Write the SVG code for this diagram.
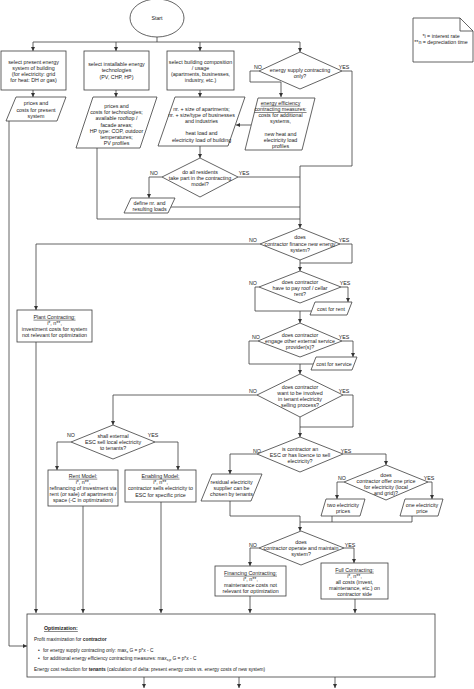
<svg xmlns="http://www.w3.org/2000/svg" width="474" height="689" viewBox="0 0 474 689">
<defs>
<marker id="ah" markerUnits="userSpaceOnUse" markerWidth="4" markerHeight="4" refX="4" refY="2" orient="auto">
<path d="M0,0 L4,2 L0,4 Z" fill="#333"/>
</marker>
<style>
.n{fill:#fff;stroke:#3c3c3c;stroke-width:0.8}
.c{fill:none;stroke:#3c3c3c;stroke-width:0.8}
.a{marker-end:url(#ah)}
text{font-family:"Liberation Sans",Arial,sans-serif;font-size:5.3px;fill:#222;text-anchor:middle}
.l{text-anchor:start}
.u{text-decoration:underline}
.b{font-weight:bold}
.o{font-size:4.8px}
</style>
</defs>
<rect width="474" height="689" fill="#fff"/>
<g id="connectors">
<path class="c" d="M157,37 V42 M33,42 H300"/>
<path class="c a" d="M33,42 V51"/>
<path class="c a" d="M116,42 V51"/>
<path class="c a" d="M200,42 V51"/>
<path class="c a" d="M300,42 V52"/>
<path class="c a" d="M33,90 V97"/>
<path class="c a" d="M116,90 V97"/>
<path class="c a" d="M200,90 V97"/>
<path class="c a" d="M259,71 H250 V82 H281 V97"/>
<path class="c" d="M342,71 H352 V166 H300"/>
<path class="c a" d="M251,125 H236"/>
<path class="c a" d="M200,146 V158"/>
<path class="c a" d="M162,177 H149 V198"/>
<path class="c" d="M238,177 H300"/>
<path class="c" d="M171,207 H300"/>
<path class="c" d="M97,148 V219 H300"/>
<path class="c a" d="M300,166 V228"/>
<path class="c a" d="M260,244 H36 V310"/>
<path class="c" d="M340,244 H352 V263 H300"/>
<path class="c a" d="M300,260 V271"/>
<path class="c a" d="M36,342 V613"/>
<path class="c a" d="M341,287 H348 V302"/>
<path class="c" d="M259,287 H255 V311 H311.5"/>
<path class="c a" d="M300,311 V323"/>
<path class="c a" d="M342,341 H353 V357"/>
<path class="c" d="M258,341 H249 V364 H313"/>
<path class="c a" d="M300,364 V374"/>
<path class="c a" d="M257,395 H113 V425"/>
<path class="c" d="M343,395 H353 V427 H300"/>
<path class="c a" d="M300,417 V437"/>
<path class="c a" d="M71,442 H57 V470"/>
<path class="c a" d="M155,442 H178 V470"/>
<path class="c a" d="M83,506 V613"/>
<path class="c a" d="M161,502 V613"/>
<path class="c a" d="M257,454 H230 V474"/>
<path class="c a" d="M343,454 H386 V465"/>
<path class="c" d="M230,501 V516 H300"/>
<path class="c a" d="M344,482 H337 V499"/>
<path class="c a" d="M428,482 H432 V499"/>
<path class="c" d="M332,516 V522 M412,516 V522 M300,522 H412"/>
<path class="c a" d="M300,516 V531"/>
<path class="c a" d="M259,548 H250 V566"/>
<path class="c a" d="M344,548 H354 V563"/>
<path class="c a" d="M250,596 V613"/>
<path class="c a" d="M355,599 V613"/>
<path class="c a" d="M9,121 V646 H27"/>
<path class="c a" d="M144,677 V688"/>
<path class="c a" d="M239,677 V688"/>
<path class="c a" d="M335,677 V688"/>
</g>
<g id="labels">
<text x="258" y="69">NO</text><text x="344" y="69">YES</text>
<text x="154" y="175">NO</text><text x="244" y="175">YES</text>
<text x="253" y="242">NO</text><text x="344" y="242">YES</text>
<text x="253" y="285">NO</text><text x="345" y="285">YES</text>
<text x="256" y="339">NO</text><text x="344" y="339">YES</text>
<text x="253" y="393">NO</text><text x="344" y="393">YES</text>
<text x="71" y="437">NO</text><text x="153" y="437">YES</text>
<text x="257" y="453">NO</text><text x="346" y="453">YES</text>
<text x="342" y="480">NO</text><text x="429" y="480">YES</text>
<text x="253" y="547">NO</text><text x="350" y="547">YES</text>
</g>
<g id="start">
<ellipse class="n" cx="157" cy="18" rx="27" ry="19"/>
<text x="157" y="20">Start</text>
</g>
<g id="note">
<path class="n" d="M413,18 H460 L473,31 V62 H413 Z"/>
<path class="c" d="M460,18 V31 H473"/>
<text x="441" y="38">*i = interest rate</text>
<text x="441" y="43.5">**n = depreciation time</text>
</g>
<g id="select-present">
<rect class="n" x="1" y="51" width="65" height="39"/>
<text x="33.5" y="63.5">select present energy</text>
<text x="33.5" y="69.8">system of building</text>
<text x="33.5" y="76.1">(for electricity: grid</text>
<text x="33.5" y="82.4">for heat: DH or gas)</text>
</g>
<g id="select-tech">
<rect class="n" x="84" y="51" width="65" height="39"/>
<text x="116.5" y="66">select installable energy</text>
<text x="116.5" y="72.3">technologies</text>
<text x="116.5" y="78.6">(PV, CHP, HP)</text>
</g>
<g id="select-building">
<rect class="n" x="167" y="51" width="67" height="39"/>
<text x="200.5" y="63.5">select building composition</text>
<text x="200.5" y="69.8">/ usage</text>
<text x="200.5" y="76.1">(apartments, businesses,</text>
<text x="200.5" y="82.4">industry, etc.)</text>
</g>
<g id="prices-present">
<path class="n" d="M16,97 H66 L57,121 H6 Z"/>
<text x="36" y="105">prices and</text>
<text x="36" y="111.5">costs for present</text>
<text x="36" y="118">system</text>
</g>
<g id="prices-tech">
<path class="n" d="M93,97 H157 L140,148 H76 Z"/>
<text x="116.5" y="108">prices and</text>
<text x="116.5" y="114.2">costs for technologies;</text>
<text x="116.5" y="120.4">available rooftop /</text>
<text x="116.5" y="126.6">facade areas;</text>
<text x="116.5" y="132.8">HP type: COP, outdoor</text>
<text x="116.5" y="139">temperatures;</text>
<text x="116.5" y="145.2">PV profiles</text>
</g>
<g id="building-loads">
<path class="n" d="M175,97 H245 L228,146 H158 Z"/>
<text x="201.5" y="110.5">nr. + size of apartments;</text>
<text x="201.5" y="116.7">nr. + size/type of businesses</text>
<text x="201.5" y="122.9">and industries</text>
<text x="201.5" y="135.3">heat load and</text>
<text x="201.5" y="141.5">electricity load of building</text>
</g>
<g id="energy-supply-only">
<path class="n" d="M300,52 L342,71 L300,89 L259,71 Z"/>
<text x="300" y="72.3">energy supply contracting</text>
<text x="300" y="78.3">only?</text>
</g>
<g id="ee-measures">
<path class="n" d="M258,98 H315 L302,150 H245 Z"/>
<text x="280.5" y="104.8" class="u">energy efficiency</text>
<text x="280.5" y="111" class="u">contracting measures:</text>
<text x="280.5" y="117.2">costs for additional</text>
<text x="280.5" y="123.4">systems,</text>
<text x="280.5" y="135.8">new heat and</text>
<text x="280.5" y="142">electricity load</text>
<text x="280.5" y="148.2">profiles</text>
</g>
<g id="all-residents">
<path class="n" d="M200,158 L238,177 L200,197 L162,177 Z"/>
<text x="200" y="173.8">do all residents</text>
<text x="200" y="179.8">take part in the contracting</text>
<text x="200" y="185.8">model?</text>
</g>
<g id="define-nr">
<path class="n" d="M131,198 H175 L168,213 H124 Z"/>
<text x="149.5" y="204.8">define nr. and</text>
<text x="149.5" y="210.8">resulting loads</text>
</g>
<g id="finance">
<path class="n" d="M300,228 L340,244 L300,260 L260,244 Z"/>
<text x="300" y="238.8">does</text>
<text x="300" y="245.5">contractor finance new energy</text>
<text x="300" y="252.2">system?</text>
</g>
<g id="plant-contracting">
<rect class="n" x="17" y="310" width="75" height="32"/>
<text x="54.5" y="318.8" class="u">Plant Contracting:</text>
<text x="54.5" y="324.8">i*, n**,</text>
<text x="54.5" y="330.8">investment costs for system</text>
<text x="54.5" y="336.8">not relevant for optimization</text>
</g>
<g id="rent-roof">
<path class="n" d="M300,271 L341,287 L300,303 L259,287 Z"/>
<text x="300" y="283.8">does contractor</text>
<text x="300" y="289.8">have to pay roof / cellar</text>
<text x="300" y="295.8">rent?</text>
</g>
<g id="cost-rent">
<path class="n" d="M315,302 H352 L347,315 H310 Z"/>
<text x="331" y="310.5">cost for rent</text>
</g>
<g id="service">
<path class="n" d="M300,323 L342,341 L300,357 L258,341 Z"/>
<text x="300" y="336.8">does contractor</text>
<text x="300" y="342.8">engage other external service</text>
<text x="300" y="348.8">provider(s)?</text>
</g>
<g id="cost-service">
<path class="n" d="M316,357 H357 L352,370 H311 Z"/>
<text x="334" y="365.5">cost for service</text>
</g>
<g id="tenant-selling">
<path class="n" d="M300,374 L343,395 L300,417 L257,395 Z"/>
<text x="300" y="388.8">does contractor</text>
<text x="300" y="394.8">want to be involved</text>
<text x="300" y="400.8">in tenant electricity</text>
<text x="300" y="406.8">selling process?</text>
</g>
<g id="external-esc">
<path class="n" d="M113,425 L155,442 L113,459 L71,442 Z"/>
<text x="113" y="437.8">shall external</text>
<text x="113" y="443.8">ESC sell local electricity</text>
<text x="113" y="449.8">to tenants?</text>
</g>
<g id="rent-model">
<rect class="n" x="48" y="470" width="70" height="36"/>
<text x="83" y="477.8" class="u">Rent Model:</text>
<text x="83" y="483.8">i*, n**,</text>
<text x="83" y="489.8">refinancing of investment via</text>
<text x="83" y="495.8">rent (or sale) of apartments /</text>
<text x="83" y="501.8">space (-C in optimization)</text>
</g>
<g id="enabling-model">
<rect class="n" x="125" y="470" width="71" height="32"/>
<text x="160.5" y="477.8" class="u">Enabling Model:</text>
<text x="160.5" y="483.8">i*, n**,</text>
<text x="160.5" y="490.3">contractor sells electricity to</text>
<text x="160.5" y="496.5">ESC for specific price</text>
</g>
<g id="esc-licence">
<path class="n" d="M300,437 L343,454 L300,472 L257,454 Z"/>
<text x="300" y="450.8">is contractor an</text>
<text x="300" y="456.8">ESC or has licence to sell</text>
<text x="300" y="462.8">electricity?</text>
</g>
<g id="residual">
<path class="n" d="M212,474 H262 L251,501 H201 Z"/>
<text x="231.5" y="483.8">residual electricity</text>
<text x="231.5" y="489.8">supplier can be</text>
<text x="231.5" y="495.8">chosen by tenants</text>
</g>
<g id="one-price-q">
<path class="n" d="M386,465 L428,482 L386,500 L344,482 Z"/>
<text x="386" y="476.8">does</text>
<text x="386" y="482.8">contractor offer one price</text>
<text x="386" y="488.8">for electricity (local</text>
<text x="386" y="494.8">and grid)?</text>
</g>
<g id="two-prices">
<path class="n" d="M326,499 H365 L360,516 H321 Z"/>
<text x="343" y="506.8">two electricity</text>
<text x="343" y="512.8">prices</text>
</g>
<g id="one-price">
<path class="n" d="M405,499 H443 L438,516 H400 Z"/>
<text x="422" y="506.8">one electricity</text>
<text x="422" y="512.8">price</text>
</g>
<g id="operate">
<path class="n" d="M301,531 L344,548 L301,565 L259,548 Z"/>
<text x="301" y="543.8">does</text>
<text x="301" y="549.8">contractor operate and maintain</text>
<text x="301" y="555.8">system?</text>
</g>
<g id="financing-contracting">
<rect class="n" x="215" y="566" width="71" height="30"/>
<text x="250.5" y="574.8" class="u">Financing Contracting:</text>
<text x="250.5" y="580.8">i*, n**,</text>
<text x="250.5" y="586.8">maintenance costs not</text>
<text x="250.5" y="592.8">relevant for optimization</text>
</g>
<g id="full-contracting">
<rect class="n" x="321" y="563" width="67" height="36"/>
<text x="354.5" y="571.8" class="u">Full Contracting:</text>
<text x="354.5" y="577.8">i*, n**,</text>
<text x="354.5" y="583.8">all costs (invest,</text>
<text x="354.5" y="589.8">maintenance, etc.) on</text>
<text x="354.5" y="595.8">contractor side</text>
</g>
<g id="optimization">
<rect class="n" x="27" y="614" width="408" height="63"/>
<text x="44" y="630" class="l b u">Optimization:</text>
<text x="34" y="641" class="l o">Profit maximization for <tspan class="b">contractor</tspan></text>
<text x="38" y="652" class="l o">•</text>
<text x="43" y="652" class="l o">for energy supply contracting only: max<tspan font-size="3.4" dy="1">x</tspan><tspan dy="-1"> G = p*x - C</tspan></text>
<text x="38" y="659.5" class="l o">•</text>
<text x="43" y="659.5" class="l o">for additional energy efficiency contracting measures: max<tspan font-size="3.4" dy="1">x,p</tspan><tspan dy="-1"> G = p*x - C</tspan></text>
<text x="34" y="671" class="l o">Energy cost reduction for <tspan class="b">tenants</tspan> (calculation of delta: present energy costs vs. energy costs of new system)</text>
</g>
</svg>
